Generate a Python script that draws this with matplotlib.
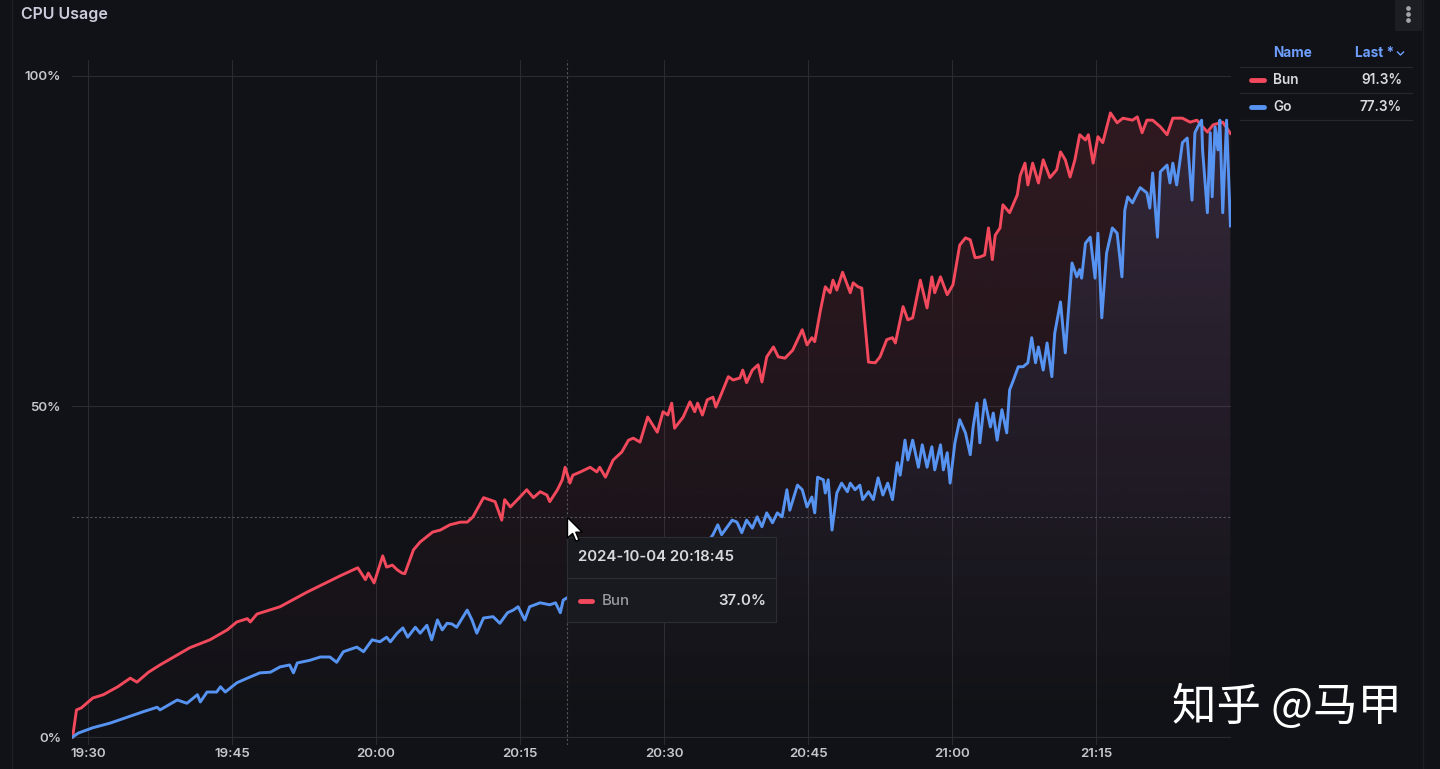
import numpy as np
import matplotlib
matplotlib.use('Agg')
import matplotlib.pyplot as plt
from matplotlib.patches import Polygon, Rectangle
from matplotlib.path import Path
from matplotlib.colors import to_rgb
from matplotlib.lines import Line2D

plt.rcParams['font.family'] = ['Inter', 'DejaVu Sans']

# minutes after 19:30, CPU usage in %
bun_t = [-1.6, -1.2, -0.7, 0.5, 1.6, 3.1, 4.4, 5.1, 6.3, 7.5,
         9.3, 10.6, 12.7, 14.5, 15.5, 16.6, 16.9, 17.6, 20.0, 22.8,
         26.3, 28.1, 28.9, 29.2, 29.8, 30.7, 31.1, 31.7, 32.2, 32.7,
         33.0, 33.9, 34.6, 35.9, 36.7, 37.7, 38.8, 39.5, 40.1, 41.2,
         42.4, 43.1, 43.4, 44.0, 45.0, 45.7, 46.4, 47.1, 47.8, 48.1,
         48.9, 49.4, 49.7, 50.2, 50.5, 51.3, 52.3, 53.0, 53.3, 53.9,
         54.7, 55.6, 56.3, 56.8, 57.5, 58.3, 59.3, 59.9, 60.4, 60.8,
         61.1, 62.0, 62.7, 63.2, 63.5, 64.0, 64.5, 65.1, 65.4, 66.0,
         66.7, 67.2, 67.9, 68.2, 68.6, 69.2, 69.8, 70.2, 70.7, 71.4,
         71.9, 72.6, 73.4, 74.4, 74.9, 75.4, 75.7, 76.3, 76.8, 77.3,
         77.6, 78.0, 78.6, 79.4, 79.7, 80.2, 80.6, 81.3, 82.0, 82.5,
         83.2, 83.8, 84.1, 84.9, 85.4, 85.9, 86.7, 87.4, 87.9, 88.2,
         88.8, 89.5, 90.1, 90.8, 91.4, 91.9, 92.4, 92.9, 93.4, 93.8,
         94.2, 94.5, 95.0, 95.3, 96.0, 96.8, 97.1, 97.6, 97.9, 98.4,
         99.0, 99.5, 100.2, 100.9, 101.3, 101.8, 102.3, 102.8, 103.3, 103.9,
         104.2, 104.7, 105.2, 105.7, 106.5, 107.2, 107.8, 108.8, 109.3, 109.8,
         110.3, 110.9, 111.7, 112.4, 113.0, 114.0, 114.8, 115.5, 116.6, 117.2,
         118.2, 119.0]
bun_v = [0.0, 4.1, 4.4, 5.9, 6.4, 7.6, 8.9, 8.3, 9.8, 10.9,
         12.4, 13.5, 14.7, 16.2, 17.4, 17.9, 17.4, 18.6, 19.7, 21.9,
         24.4, 25.6, 23.8, 24.8, 23.3, 27.4, 25.7, 26.0, 25.3, 24.8,
         24.7, 28.3, 29.5, 31.0, 31.3, 32.1, 32.5, 32.5, 33.3, 36.2,
         35.6, 32.8, 35.9, 34.8, 36.3, 37.4, 36.2, 37.1, 36.6, 35.6,
         37.4, 38.9, 40.8, 38.4, 39.6, 40.1, 40.8, 40.1, 40.8, 39.3,
         41.9, 43.1, 44.9, 45.2, 44.6, 48.4, 46.1, 49.2, 48.7, 50.5,
         46.7, 48.4, 50.7, 49.2, 50.5, 48.7, 51.0, 51.4, 49.9, 52.0,
         54.5, 54.0, 54.3, 55.5, 53.6, 55.5, 56.3, 53.7, 57.5, 59.0,
         57.5, 57.3, 58.5, 61.6, 59.3, 60.4, 59.8, 64.6, 68.1, 67.2,
         69.1, 67.6, 70.3, 67.2, 68.7, 68.1, 67.9, 56.7, 56.6, 57.5,
         60.1, 60.4, 59.6, 65.1, 63.1, 63.4, 69.1, 64.9, 69.6, 67.2,
         69.6, 66.9, 68.4, 74.4, 75.5, 75.2, 72.5, 72.6, 72.9, 77.0,
         72.2, 75.9, 77.0, 80.5, 79.3, 82.0, 84.9, 86.8, 83.5, 86.8,
         83.8, 87.3, 84.6, 85.8, 88.5, 87.3, 84.7, 87.3, 91.1, 90.3,
         91.1, 86.8, 90.8, 89.9, 94.4, 92.9, 93.6, 93.3, 93.8, 91.4,
         93.3, 93.3, 92.3, 91.1, 93.6, 93.6, 93.0, 93.3, 91.5, 92.6,
         93.0, 91.3]

go_t = [-1.6, -1.0, 0.5, 2.3, 4.1, 5.7, 7.2, 7.5, 9.3, 10.3,
        11.4, 11.7, 12.4, 13.4, 13.8, 14.3, 15.5, 16.6, 17.9, 19.0,
        20.0, 21.0, 21.4, 21.8, 23.1, 24.2, 25.2, 25.9, 26.6, 28.0,
        28.7, 29.6, 30.4, 31.1, 31.5, 32.2, 32.8, 33.3, 34.1, 34.6,
        35.3, 35.8, 36.4, 36.9, 37.4, 37.9, 38.4, 39.5, 40.0, 40.5,
        41.2, 42.2, 42.9, 43.7, 44.3, 44.8, 45.5, 46.0, 47.1, 48.1,
        48.7, 49.2, 49.5, 50.5, 51.5, 52.5, 53.5, 54.5, 55.5, 56.5,
        57.5, 58.5, 59.5, 60.5, 61.5, 62.5, 63.5, 64.5, 65.1, 65.6,
        66.0, 66.6, 67.1, 67.6, 68.1, 68.6, 69.2, 69.7, 70.2, 70.7,
        71.3, 71.8, 72.3, 72.8, 73.1, 73.9, 74.4, 74.9, 75.4, 75.7,
        76.0, 76.6, 76.8, 77.1, 77.5, 78.0, 78.5, 79.1, 79.4, 79.9,
        80.4, 80.7, 81.3, 81.8, 82.3, 82.8, 83.3, 83.8, 84.3, 84.6,
        85.1, 85.4, 85.9, 86.5, 86.9, 87.4, 87.9, 88.2, 88.8, 89.1,
        89.5, 89.8, 90.3, 90.8, 91.4, 91.9, 92.2, 92.6, 92.9, 93.4,
        94.0, 94.3, 94.7, 95.2, 95.7, 96.0, 96.4, 96.9, 97.4, 97.9,
        98.3, 98.7, 99.0, 99.5, 99.9, 100.4, 100.7, 101.3, 101.8, 102.5,
        103.0, 103.3, 103.5, 103.9, 104.4, 104.9, 105.2, 105.6, 106.1, 106.7,
        107.2, 107.7, 108.0, 108.3, 108.8, 109.3, 109.6, 110.3, 110.6, 110.9,
        111.4, 111.7, 112.4, 112.7, 113.0, 113.4, 114.0, 114.5, 115.0, 115.3,
        115.6, 116.0, 116.1, 116.6, 116.9, 117.1, 117.4, 117.7, 117.9, 118.2,
        118.6, 119.0]
go_v = [0.0, 0.6, 1.4, 2.1, 3.0, 3.8, 4.5, 4.1, 5.6, 5.1,
        6.4, 5.3, 6.8, 6.8, 7.6, 6.8, 8.2, 8.9, 9.7, 9.8,
        10.6, 10.9, 9.7, 11.2, 11.6, 12.1, 12.1, 11.3, 12.9, 13.6,
        12.9, 14.7, 14.4, 15.1, 14.4, 15.7, 16.5, 15.1, 16.6, 15.7,
        16.9, 14.7, 17.7, 16.2, 17.2, 17.1, 16.6, 19.2, 17.7, 15.7,
        18.0, 18.2, 17.2, 18.8, 19.2, 19.7, 17.7, 19.7, 20.3, 20.0,
        20.3, 18.8, 20.7, 21.6, 20.4, 22.3, 21.5, 23.4, 22.6, 24.5,
        23.7, 25.6, 24.8, 26.7, 25.9, 27.9, 27.0, 29.4, 30.6, 32.1,
        30.6, 31.8, 32.8, 32.5, 30.9, 32.8, 31.6, 33.3, 31.8, 33.9,
        32.4, 33.9, 33.3, 37.4, 34.3, 38.1, 37.4, 34.8, 36.3, 33.9,
        39.3, 38.9, 36.9, 38.9, 31.3, 36.9, 38.4, 37.1, 38.4, 37.4,
        38.1, 35.9, 37.1, 35.9, 39.2, 36.6, 38.4, 35.9, 41.5, 39.6,
        44.9, 41.9, 44.9, 40.8, 44.2, 40.8, 43.9, 40.4, 44.2, 40.4,
        43.0, 38.4, 44.5, 48.0, 46.0, 42.7, 46.9, 50.5, 44.5, 51.0,
        46.9, 49.0, 44.9, 49.5, 46.0, 52.5, 54.0, 56.0, 56.0, 56.6,
        60.4, 56.6, 59.0, 55.5, 59.6, 54.5, 61.1, 65.8, 58.1, 71.7,
        69.6, 70.7, 69.4, 74.7, 75.6, 69.4, 76.2, 63.4, 73.2, 77.0,
        76.2, 69.6, 79.7, 81.7, 80.8, 82.3, 83.1, 82.3, 80.0, 85.3,
        75.6, 85.5, 86.5, 83.8, 86.8, 83.5, 89.9, 90.6, 81.2, 91.4,
        92.3, 93.3, 88.8, 79.3, 91.4, 81.7, 92.3, 88.8, 93.3, 79.3,
        93.3, 77.3]

series_names = ['Bun', 'Go']
series_colors = ['#F2495C', '#5794F2']
x_ticks = [0, 15, 30, 45, 60, 75, 90, 105]
y_ticks = [0, 50, 100]

# hover state
cursor_t, cursor_v = 49.9, 33.3
hover_time = '2024-10-04 20:18:45'
hover_name = 'Bun'
hover_value = 37.0

BG = '#111217'
GRID = '#2a2b30'
TXT = '#c6c7cc'
W, H = 1440, 769


def fx(px):
    return px / W


def fy(py):
    return 1 - py / H


def hhmm(m):
    tot = 19 * 60 + 30 + m
    return f'{tot // 60}:{tot % 60:02d}'


fig = plt.figure(figsize=(14.4, 7.69), dpi=100, facecolor=BG)
ax = fig.add_axes([fx(72), fy(745), fx(1231) - fx(72), fy(60) - fy(745)])
ax.set_facecolor(BG)
xmin, xmax = -1.667, 119.06
ymin, ymax = -1.21, 102.4


def gradient_fill(t, v, color, amax, z):
    verts = np.vstack([np.c_[t, v], [[t[-1], 0], [t[0], 0]]])
    clip = Polygon(verts, closed=True, facecolor='none', edgecolor='none')
    ax.add_patch(clip)
    img = np.zeros((256, 1, 4))
    img[:, :, :3] = to_rgb(color)
    img[:, 0, 3] = np.linspace(0, amax, 256)
    im = ax.imshow(img, aspect='auto', extent=[xmin, xmax, 0, 100],
                   origin='lower', zorder=z, interpolation='bilinear')
    im.set_clip_path(clip)


gradient_fill(bun_t, bun_v, series_colors[0], 0.15, 1)
gradient_fill(go_t, go_v, series_colors[1], 0.13, 1.1)

ax.plot(bun_t, bun_v, color=series_colors[0], lw=2.1, solid_joinstyle='round', zorder=3)
ax.plot(go_t, go_v, color=series_colors[1], lw=2.1, solid_joinstyle='round', zorder=3.1)

ax.set_xlim(xmin, xmax)
ax.set_ylim(ymin, ymax)
ax.set_xticks(x_ticks)
ax.set_xticklabels([hhmm(m) for m in x_ticks], fontweight='semibold')
ax.set_yticks(y_ticks)
ax.set_yticklabels([f'{v}%' for v in y_ticks], fontweight='semibold')
ax.tick_params(length=0, colors=TXT, labelsize=9.6)
ax.tick_params(axis='y', pad=8)
ax.tick_params(axis='x', pad=2)
ax.grid(True, color=GRID, lw=0.8)
ax.set_axisbelow(True)
for s in ax.spines.values():
    s.set_visible(False)

# crosshair
ax.axvline(cursor_t, color='#55565c', lw=0.8, ls=(0, (2, 2)), zorder=2)
ax.axhline(cursor_v, color='#55565c', lw=0.8, ls=(0, (2, 2)), zorder=2)

# tooltip
tip = fig.add_axes([fx(567), fy(622), fx(776) - fx(567), fy(537) - fy(622)])
tip.set_facecolor('#181a1f')
tip.set_xticks([])
tip.set_yticks([])
for s in tip.spines.values():
    s.set_color('#2c2e34')
    s.set_linewidth(0.8)
tip.set_xlim(0, 1)
tip.set_ylim(0, 1)
tip.text(0.053, 0.765, hover_time, color='#d8d9dc', fontsize=10.8,
         fontweight='semibold', va='center', ha='left')
tip.axhline(0.515, color='#2c2e34', lw=0.8)
tip.plot([0.06, 0.122], [0.247, 0.247], color=series_colors[0], lw=3.5,
         solid_capstyle='round')
tip.text(0.167, 0.247, hover_name, color='#9a9ba1', fontsize=10.8,
         fontweight='medium', va='center', ha='left')
tip.text(0.952, 0.247, f'{hover_value:.1f}%', color='#d8d9dc', fontsize=10.8,
         fontweight='semibold', va='center', ha='right')

# mouse pointer
arrow = Path([(0, 0), (0, -16), (4, -12.5), (6.5, -18.5), (9, -17.5),
              (6.5, -11.5), (11.5, -11.5), (0, 0)],
             [Path.MOVETO] + [Path.LINETO] * 6 + [Path.CLOSEPOLY])
fig.add_artist(Line2D([cursor_t], [cursor_v], transform=ax.transData, marker=arrow,
                      markersize=34, markerfacecolor='white', markeredgecolor='black',
                      markeredgewidth=1.0, linestyle='none'))

# panel chrome
fig.add_artist(Line2D([fx(12), fx(12)], [0, 1], color='#1e1f24', lw=1))
fig.add_artist(Line2D([fx(1423), fx(1423)], [0, 1], color='#1e1f24', lw=1))
fig.add_artist(Rectangle((fx(1395), fy(31)), fx(1422) - fx(1395), fy(0) - fy(31),
                         transform=fig.transFigure, facecolor='#1d1e23', edgecolor='none'))
fig.add_artist(Line2D([fx(1408)] * 3, [fy(8), fy(14), fy(20)], color='#a3a4aa',
                      marker='o', ms=2.4, linestyle='none'))
fig.text(fx(21), fy(14), 'CPU Usage', color='#ccccdc', fontsize=11.5, fontweight='semibold',
         va='center', ha='left')

# legend table
LEG_HEAD = '#6e9fff'
fig.text(fx(1293), fy(53), 'Name', color=LEG_HEAD, fontsize=9.8, fontweight='bold',
         ha='center', va='center')
fig.text(fx(1394), fy(53), 'Last *', color=LEG_HEAD, fontsize=9.8, fontweight='bold',
         ha='right', va='center')
fig.add_artist(Line2D([fx(1397.5), fx(1400.5), fx(1403.5)], [fy(52), fy(55), fy(52)],
                      color=LEG_HEAD, lw=1))
for py in [67, 93, 120]:
    fig.add_artist(Line2D([fx(1240), fx(1412)], [fy(py), fy(py)], color='#26272c', lw=0.9))
last_vals = [bun_v[-1], go_v[-1]]
for i, (name, col, val) in enumerate(zip(series_names, series_colors, last_vals)):
    py = 80 + 27 * i
    fig.add_artist(Line2D([fx(1251), fx(1264)], [fy(py), fy(py)], color=col, lw=3.5,
                          solid_capstyle='round'))
    fig.text(fx(1273), fy(py), name, color='#d8d9dc', fontsize=9.8, fontweight='semibold',
             ha='left', va='center')
    fig.text(fx(1402), fy(py), f'{val:.1f}%', color='#d8d9dc', fontsize=9.8,
             fontweight='semibold', ha='right', va='center')

# watermark
fig.text(fx(1172), fy(707), '知乎 @马甲', color='white', fontsize=32,
         family=['Noto Sans CJK SC', 'DejaVu Sans'], ha='left', va='center')

fig.savefig('out.png', dpi=100, facecolor=BG)
